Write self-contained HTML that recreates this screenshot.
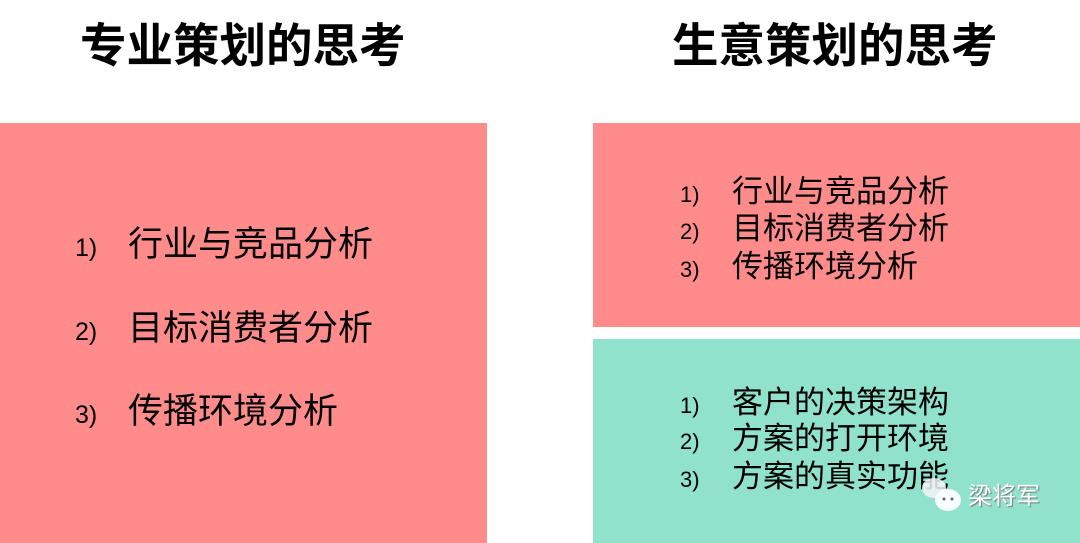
<!DOCTYPE html>
<html><head><meta charset="utf-8"><style>
body{margin:0;width:1080px;height:543px;background:#fff;position:relative;overflow:hidden;font-family:"Liberation Sans","Noto Sans CJK SC",sans-serif;}
.t{position:absolute;font-weight:bold;font-size:46.5px;line-height:1;color:#000;white-space:nowrap;}
.box{position:absolute;}
.l{position:absolute;white-space:nowrap;color:#000;line-height:1;}
.n{display:inline-block;}
</style></head><body>
<div class="t" style="left:80px;top:23px;">专业策划的思考</div>
<div class="t" style="left:672px;top:23px;">生意策划的思考</div>
<div class="box" style="left:0;top:123px;width:487px;height:420px;background:#FF8C8A"></div>
<div class="box" style="left:593px;top:123px;width:487px;height:204px;background:#FF8C8A"></div>
<div class="box" style="left:593px;top:339px;width:487px;height:204px;background:#90E2CC"></div>

<div style="font-size:35px;">
<div class="l" style="left:75px;top:227px;"><span class="n" style="width:53px;font-size:25px">1)</span>行业与竞品分析</div>
<div class="l" style="left:75px;top:311px;"><span class="n" style="width:53px;font-size:25px">2)</span>目标消费者分析</div>
<div class="l" style="left:75px;top:394px;"><span class="n" style="width:53px;font-size:25px">3)</span>传播环境分析</div>
</div>
<div style="font-size:31px;">
<div class="l" style="left:680px;top:176px;"><span class="n" style="width:52px;font-size:22px">1)</span>行业与竞品分析</div>
<div class="l" style="left:680px;top:213px;"><span class="n" style="width:52px;font-size:22px">2)</span>目标消费者分析</div>
<div class="l" style="left:680px;top:251px;"><span class="n" style="width:52px;font-size:22px">3)</span>传播环境分析</div>
<div class="l" style="left:680px;top:387px;"><span class="n" style="width:52px;font-size:22px">1)</span>客户的决策架构</div>
<div class="l" style="left:680px;top:423px;"><span class="n" style="width:52px;font-size:22px">2)</span>方案的打开环境</div>
<div class="l" style="left:680px;top:461px;"><span class="n" style="width:52px;font-size:22px">3)</span>方案的真实功能</div>
</div>
<svg style="position:absolute;left:918px;top:476px" width="48" height="40">
<ellipse cx="16" cy="12" rx="12" ry="10" fill="#f4f4f4" opacity="0.85"/>
<ellipse cx="30" cy="24" rx="13" ry="11" fill="#f8ffff"/>
<circle cx="26" cy="23" r="1.5" fill="#666"/><circle cx="34" cy="23" r="1.5" fill="#666"/>
</svg>
<div class="l" style="left:968px;top:485px;font-size:24px;color:#fff;text-shadow:1px 1px 1px #777;">梁将军</div>
</body></html>
